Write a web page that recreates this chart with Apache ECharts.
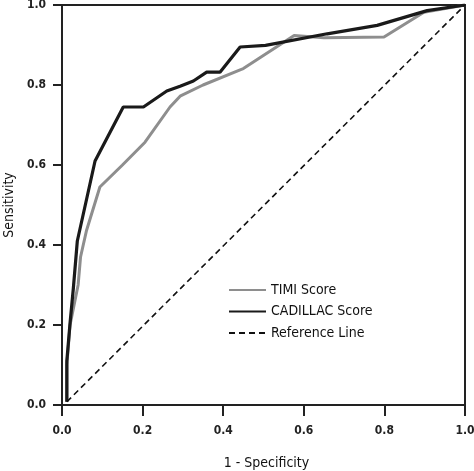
<!DOCTYPE html>
<html>
<head>
<meta charset="utf-8">
<script src="https://cdn.jsdelivr.net/npm/echarts@6/dist/echarts.min.js"></script>
<style>
  html, body { margin: 0; padding: 0; background: #fff; }
  #roc { width: 474px; height: 471px; }
</style>
</head>
<body>
<div id="roc"></div>
<script>
// values
const ticks = [0, 0.2, 0.4, 0.6, 0.8, 1.0];

const timiX = [0.012, 0.012, 0.02, 0.04, 0.046, 0.061, 0.094, 0.15, 0.206, 0.268, 0.293, 0.35, 0.442, 0.45, 0.576, 0.65, 0.799, 0.898, 1];
const timiY = [0.008, 0.1, 0.2, 0.3, 0.37, 0.437, 0.545, 0.6, 0.657, 0.745, 0.772, 0.8, 0.838, 0.841, 0.924, 0.918, 0.92, 0.982, 1];

const cadX = [0.012, 0.012, 0.02, 0.028, 0.038, 0.082, 0.152, 0.202, 0.26, 0.293, 0.326, 0.359, 0.392, 0.442, 0.505, 0.658, 0.782, 0.906, 1];
const cadY = [0.008, 0.11, 0.205, 0.29, 0.41, 0.61, 0.745, 0.745, 0.785, 0.797, 0.81, 0.832, 0.832, 0.895, 0.899, 0.928, 0.949, 0.986, 1];

const refX = [0.012, 1];
const refY = [0.008, 1];

const font = "'DejaVu Sans Condensed', 'Liberation Sans Narrow', 'Liberation Sans', sans-serif";

function zip(xs, ys) {
  return xs.map((x, i) => [x, ys[i]]);
}

const chart = echarts.init(document.getElementById('roc'));

const option = {
  animation: false,
  textStyle: { fontFamily: font },
  grid: {
    left: 62, right: 9, top: 5, bottom: 66,
    outerBoundsMode: 'none',
    show: true, borderColor: '#222', borderWidth: 2
  },
  legend: {
    orient: 'vertical',
    left: 223, top: 278,
    itemWidth: 37, itemHeight: 14, itemGap: 7.5,
    itemStyle: { opacity: 0 },
    textStyle: { fontFamily: font, fontSize: 14, color: '#111' },
    data: ['TIMI Score', 'CADILLAC Score', 'Reference Line']
  },
  xAxis: {
    type: 'value', min: 0, max: 1, interval: 0.2,
    name: '1 - Specificity', nameLocation: 'middle', nameGap: 51,
    nameTextStyle: { fontFamily: font, fontSize: 14, color: '#111', padding: [0, 0, 0, 6] },
    axisLine: { lineStyle: { color: '#222', width: 2 } },
    axisTick: { length: 11, lineStyle: { color: '#222', width: 2 } },
    axisLabel: {
      color: '#222', fontSize: 12, fontWeight: 'bold', margin: 20,
      formatter: v => ticks.includes(+v.toFixed(1)) ? v.toFixed(1) : ''
    },
    splitLine: { show: false }
  },
  yAxis: {
    type: 'value', min: 0, max: 1, interval: 0.2,
    name: 'Sensitivity', nameLocation: 'middle', nameGap: 46,
    nameTextStyle: { fontFamily: font, fontSize: 14, color: '#111' },
    axisLine: { lineStyle: { color: '#222', width: 2 } },
    axisTick: { length: 9, lineStyle: { color: '#222', width: 2 } },
    axisLabel: {
      color: '#222', fontSize: 12, fontWeight: 'bold', margin: 16,
      formatter: v => v.toFixed(1)
    },
    splitLine: { show: false }
  },
  series: [
    {
      name: 'TIMI Score', type: 'line', symbol: 'none',
      data: zip(timiX, timiY),
      itemStyle: { color: '#8e8e8e' },
      lineStyle: { color: '#8e8e8e', width: 3 }
    },
    {
      name: 'CADILLAC Score', type: 'line', symbol: 'none',
      data: zip(cadX, cadY),
      itemStyle: { color: '#1a1a1a' },
      lineStyle: { color: '#1a1a1a', width: 3.2 }
    },
    {
      name: 'Reference Line', type: 'line', symbol: 'none',
      data: zip(refX, refY),
      itemStyle: { color: '#111' },
      lineStyle: { color: '#111', width: 1.6, type: [6, 4] }
    }
  ]
};

chart.setOption(option);
</script>
</body>
</html>
